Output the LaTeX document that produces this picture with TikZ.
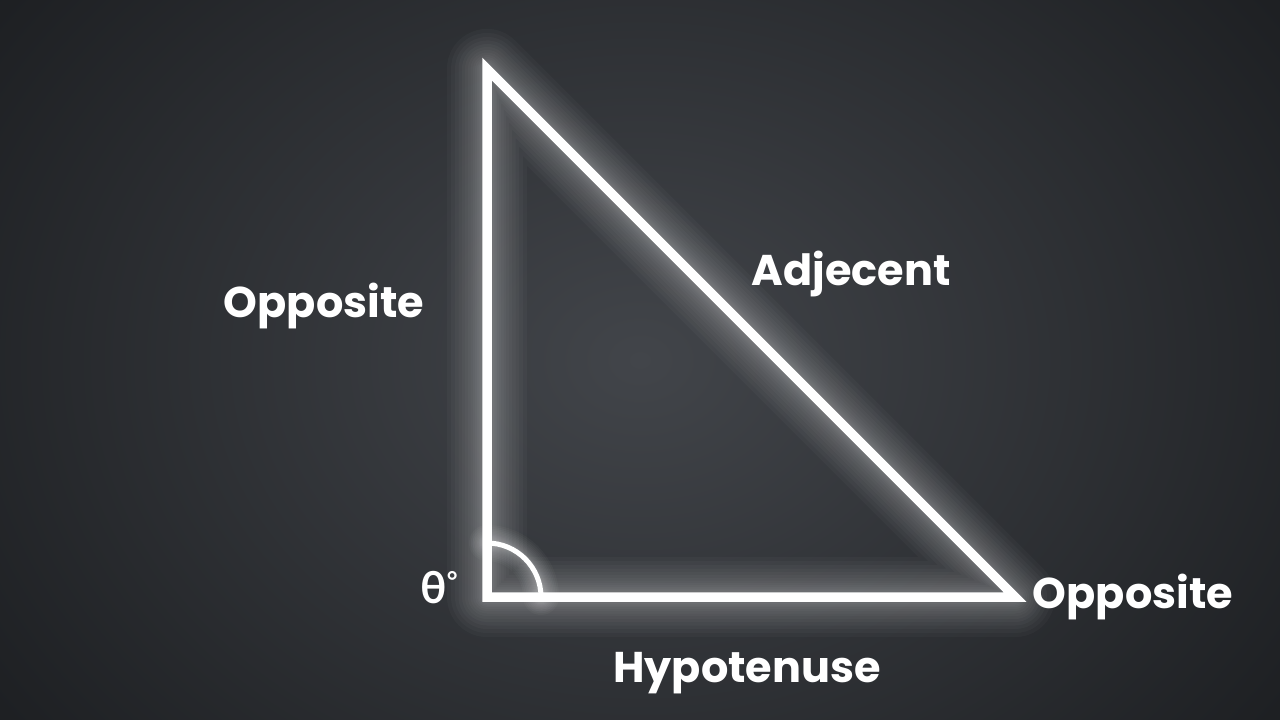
\documentclass[tikz,border=0pt]{standalone}
\usepackage{fontspec}
\setmainfont{Poppins}
\newfontfamily\greekfont{Lato}
\begin{document}
\begin{tikzpicture}[x=1pt,y=-1pt,
  lbl/.style={text=white,font=\fontsize{43}{45}\selectfont\bfseries,inner sep=0pt},
  edge/.style={draw=white,line width=9.5pt,line join=miter,line cap=rect},
  glow/.style={draw=white,line join=round,line cap=round}]
\useasboundingbox (0,0) rectangle (1280,720);
\fill[black!88!blue!60!gray] (0,0) rectangle (1280,720);
\shade[inner color={rgb,255:red,66;green,69;blue,74},outer color={rgb,255:red,27;green,29;blue,32}] (-200,-300) rectangle (1480,1020);
\coordinate (T) at (487,69);
\coordinate (BL) at (487,597);
\coordinate (BR) at (1015,597);
% glow
\foreach \w in {80,72,64,57,50,44,38,33,28,24,20,17,14}{
  \draw[glow,line width=\w pt,opacity=0.029] (T) -- (BL) -- (BR) -- cycle;
  \draw[glow,line width=0.45*\w pt,opacity=0.03] ([shift={(0,-54)}]BL) arc[start angle=-90,end angle=0,radius=54];
}
\draw[edge] (T) -- (BL) -- (BR) -- cycle;
\draw[draw=white,line width=5pt] ([shift={(0,-54)}]BL) arc[start angle=-90,end angle=0,radius=54];
% labels
\node[lbl] (oppL) at (324,306) {Opposite};
\node[lbl] (adj) at (851,274) {Adjecent};
\node[lbl] (oppR) at (1133,597) {Opposite};
\node[lbl] (hyp) at (747,673) {Hypotenuse};
\node[text=white,font=\greekfont\fontsize{44}{46}\selectfont\bfseries,inner sep=0pt] (theta) at (439,588) {θ\raisebox{0.3em}{\fontsize{26}{26}\selectfont°}};
\end{tikzpicture}
\end{document}
